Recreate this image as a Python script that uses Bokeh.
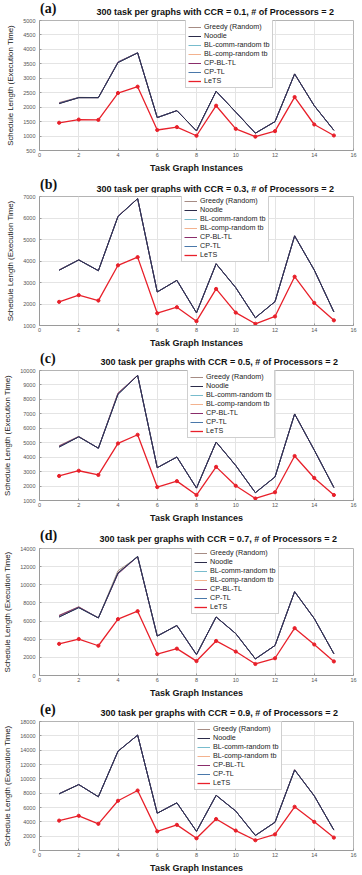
from bokeh.plotting import figure
from bokeh.layouts import column
from bokeh.models import FixedTicker, Legend, LegendItem, Range1d
from bokeh.core.properties import value
from bokeh.embed import file_html
from bokeh.resources import INLINE

# task graph instance index
instances = list(range(1, 16))

series_names = ["Greedy (Random)", "Noodle", "BL-comm-random tb", "BL-comp-random tb",
                "CP-BL-TL", "CP-TL", "LeTS"]
series_colors = ["#a68c84", "#2c2c4a", "#78bccd", "#f3b28e", "#8a2d6a", "#4a78aa", "#e8202a"]
x_ticks = [0, 2, 4, 6, 8, 10, 12, 14, 16]

# CCR = 0.1
greedy_01 = [2160, 2340, 2330, 3570, 3880, 1640, 1880, 1180, 2550, 1830, 1100, 1500, 3150, 2050, 1200]
noodle_01 = [2120, 2330, 2330, 3540, 3880, 1640, 1880, 1180, 2550, 1830, 1100, 1500, 3150, 2050, 1200]
blcomm_01 = [2130, 2330, 2330, 3550, 3880, 1640, 1880, 1180, 2550, 1830, 1100, 1500, 3150, 2050, 1200]
blcomp_01 = [2130, 2330, 2330, 3550, 3880, 1640, 1880, 1180, 2550, 1830, 1100, 1500, 3150, 2050, 1200]
cpbltl_01 = [2140, 2330, 2330, 3560, 3880, 1640, 1880, 1180, 2550, 1830, 1100, 1500, 3150, 2050, 1200]
cptl_01   = [2130, 2330, 2330, 3550, 3880, 1640, 1880, 1180, 2550, 1830, 1100, 1500, 3150, 2050, 1200]
lets_01   = [1460, 1570, 1560, 2490, 2710, 1210, 1310, 1010, 2050, 1250, 980, 1170, 2350, 1400, 1020]

# CCR = 0.3
greedy_03 = [3590, 4060, 3550, 6090, 6900, 2560, 3100, 1590, 3870, 2760, 1360, 2110, 5170, 3580, 1630]
noodle_03 = [3570, 4050, 3550, 6070, 6900, 2560, 3100, 1590, 3870, 2760, 1360, 2110, 5170, 3580, 1630]
blcomm_03 = [3570, 4050, 3550, 6070, 6900, 2560, 3100, 1590, 3870, 2760, 1360, 2110, 5170, 3580, 1630]
blcomp_03 = [3570, 4050, 3550, 6070, 6900, 2560, 3100, 1590, 3870, 2760, 1360, 2110, 5170, 3580, 1630]
cpbltl_03 = [3580, 4050, 3550, 6080, 6900, 2560, 3100, 1590, 3870, 2760, 1360, 2110, 5170, 3580, 1630]
cptl_03   = [3570, 4050, 3550, 6070, 6900, 2560, 3100, 1590, 3870, 2760, 1360, 2110, 5170, 3580, 1630]
lets_03   = [2100, 2410, 2160, 3800, 4180, 1570, 1850, 1200, 2700, 1600, 1080, 1420, 3270, 2050, 1240]

# CCR = 0.5
greedy_05 = [4800, 5440, 4620, 8450, 9660, 3270, 4010, 1860, 5050, 3420, 1540, 2630, 6990, 4490, 1900]
noodle_05 = [4700, 5410, 4620, 8350, 9660, 3270, 4010, 1860, 5050, 3420, 1540, 2630, 6990, 4490, 1900]
blcomm_05 = [4720, 5410, 4620, 8380, 9660, 3270, 4010, 1860, 5050, 3420, 1540, 2630, 6990, 4490, 1900]
blcomp_05 = [4720, 5410, 4620, 8380, 9660, 3270, 4010, 1860, 5050, 3420, 1540, 2630, 6990, 4490, 1900]
cpbltl_05 = [4760, 5420, 4620, 8420, 9660, 3270, 4010, 1860, 5050, 3420, 1540, 2630, 6990, 4490, 1900]
cptl_05   = [4700, 5410, 4620, 8350, 9660, 3270, 4010, 1860, 5050, 3420, 1540, 2630, 6990, 4490, 1900]
lets_05   = [2700, 3060, 2770, 4950, 5550, 1930, 2340, 1380, 3330, 2020, 1140, 1570, 4080, 2560, 1380]

# CCR = 0.7
greedy_07 = [6650, 7580, 6350, 11550, 13050, 4350, 5510, 2300, 6450, 4620, 1830, 3310, 9240, 6280, 2400]
noodle_07 = [6450, 7480, 6350, 11300, 13120, 4350, 5510, 2300, 6450, 4620, 1830, 3310, 9240, 6280, 2400]
blcomm_07 = [6500, 7500, 6350, 11350, 13120, 4350, 5510, 2300, 6450, 4620, 1830, 3310, 9240, 6280, 2400]
blcomp_07 = [6500, 7500, 6350, 11350, 13120, 4350, 5510, 2300, 6450, 4620, 1830, 3310, 9240, 6280, 2400]
cpbltl_07 = [6600, 7550, 6350, 11200, 13100, 4350, 5510, 2300, 6450, 4620, 1830, 3310, 9240, 6280, 2400]
cptl_07   = [6450, 7480, 6350, 11300, 13120, 4350, 5510, 2300, 6450, 4620, 1830, 3310, 9240, 6280, 2400]
lets_07   = [3490, 4020, 3280, 6210, 7090, 2360, 2960, 1590, 3810, 2640, 1270, 1900, 5220, 3420, 1550]

# CCR = 0.9
greedy_09 = [7950, 9200, 7500, 13850, 16100, 5200, 6650, 2670, 7700, 5500, 2100, 3940, 11280, 7620, 2850]
noodle_09 = [7900, 9200, 7500, 13850, 16100, 5200, 6650, 2670, 7700, 5500, 2100, 3940, 11240, 7620, 2850]
blcomm_09 = [7900, 9200, 7500, 13850, 16100, 5200, 6650, 2670, 7700, 5500, 2100, 3940, 11240, 7620, 2850]
blcomp_09 = [7900, 9200, 7500, 13850, 16100, 5200, 6650, 2670, 7700, 5500, 2100, 3940, 11240, 7620, 2850]
cpbltl_09 = [7920, 9200, 7500, 13850, 16100, 5200, 6650, 2670, 7700, 5500, 2100, 3940, 11260, 7620, 2850]
cptl_09   = [7900, 9200, 7500, 13850, 16100, 5200, 6650, 2670, 7700, 5500, 2100, 3940, 11240, 7620, 2850]
lets_09   = [4170, 4840, 3720, 6940, 8370, 2670, 3580, 1700, 4390, 2780, 1430, 2250, 6100, 4000, 1800]

# y-axis ticks of each panel
y_ticks_01 = [500, 1000, 1500, 2000, 2500, 3000, 3500, 4000, 4500, 5000]
y_ticks_03 = [1000, 2000, 3000, 4000, 5000, 6000, 7000]
y_ticks_05 = [1000, 2000, 3000, 4000, 5000, 6000, 7000, 8000, 9000, 10000]
y_ticks_07 = [0, 2000, 4000, 6000, 8000, 10000, 12000, 14000]
y_ticks_09 = [0, 2000, 4000, 6000, 8000, 10000, 12000, 14000, 16000, 18000]

# border = (left, right, top, bottom) around each plot frame, within a 175 px band
panels = [
    dict(tag="(a)", ccr="0.1", data=[greedy_01, noodle_01, blcomm_01, blcomp_01, cpbltl_01, cptl_01, lets_01],
         yticks=y_ticks_01, border=(32, 4, 20, 23), legend_x=146, legend_top=2,
         title_x=57, title_y=11, tag_y=0),
    dict(tag="(b)", ccr="0.3", data=[greedy_03, noodle_03, blcomm_03, blcomp_03, cpbltl_03, cptl_03, lets_03],
         yticks=y_ticks_03, border=(33, 1, 21, 21), legend_x=142, legend_top=2,
         title_x=57, title_y=13, tag_y=1),
    dict(tag="(c)", ccr="0.5", data=[greedy_05, noodle_05, blcomm_05, blcomp_05, cpbltl_05, cptl_05, lets_05],
         yticks=y_ticks_05, border=(37, 9, 20, 22), legend_x=148, legend_top=3,
         title_x=61, title_y=11, tag_y=0),
    dict(tag="(d)", ccr="0.7", data=[greedy_07, noodle_07, blcomm_07, blcomp_07, cpbltl_07, cptl_07, lets_07],
         yticks=y_ticks_07, border=(35, 9, 23, 20), legend_x=152, legend_top=3,
         title_x=60, title_y=13, tag_y=2),
    dict(tag="(e)", ccr="0.9", data=[greedy_09, noodle_09, blcomm_09, blcomp_09, cpbltl_09, cptl_09, lets_09],
         yticks=y_ticks_09, border=(35, 5, 21, 20), legend_x=155, legend_top=6,
         title_x=61, title_y=12, tag_y=1),
]

FONT = "Liberation Sans"
W, H = 362, 175
TOP_PAD = 3
LEG_FONT = 7.2
LEG_PAD = 2
# draw order: the near-identical baseline heuristics first, Noodle on top of them, LeTS last
order = [0, 2, 3, 4, 5, 1, 6]

blocks = []
for pn in panels:
    bl, br, bt, bb = pn["border"]
    yt = pn["yticks"]
    hh = bt - TOP_PAD  # header strip holding the panel letter and the title

    # header strip: its frame spans the whole strip, one unit per pixel
    head = figure(frame_width=W, frame_height=hh, output_backend="svg", toolbar_location=None,
                  x_axis_location=None, y_axis_location=None, title=None,
                  x_range=Range1d(0, W), y_range=Range1d(0, hh),
                  min_border_left=0, min_border_right=0, min_border_top=0, min_border_bottom=0)
    head.outline_line_color = None
    head.grid.visible = False
    head.text(x=[pn["title_x"]], y=[hh - pn["title_y"]],
              text=[f"300 task per graphs with CCR = {pn['ccr']}, # of Processors = 2"],
              text_font=value(FONT), text_font_style="bold", text_font_size="9px",
              text_color="#111111", text_align="left", text_baseline="middle")
    head.text(x=[0.5], y=[hh - pn["tag_y"]], text=[pn["tag"]],
              text_font=value("Liberation Serif"), text_font_style="bold",
              text_font_size="14px", text_color="#111111",
              text_align="left", text_baseline="top")

    p = figure(width=W, height=H - hh, output_backend="svg", toolbar_location=None,
               x_range=Range1d(0, 16), y_range=Range1d(yt[0], yt[-1]),
               min_border_left=bl, min_border_right=br, min_border_top=TOP_PAD, min_border_bottom=bb)
    p.background_fill_color = "white"
    p.border_fill_color = "white"
    p.outline_line_color = "#b4b4b4"
    p.outline_line_width = 1

    p.xaxis.ticker = FixedTicker(ticks=x_ticks)
    p.yaxis.ticker = FixedTicker(ticks=yt)
    p.xgrid.grid_line_color = "#e4e4e4"
    p.ygrid.grid_line_color = "#e4e4e4"
    for ax in (p.xaxis[0], p.yaxis[0]):
        ax.axis_line_color = "#9a9a9a"
        ax.major_tick_line_color = "#9a9a9a"
        ax.major_tick_in = 2
        ax.major_tick_out = 0
        ax.minor_tick_line_color = None
        ax.major_label_text_font = FONT
        ax.major_label_text_font_size = "5.5px"
        ax.major_label_text_color = "#555555"
        ax.axis_label_text_font = FONT
        ax.axis_label_text_color = "#151515"
    p.xaxis.major_label_standoff = 2
    p.yaxis.major_label_standoff = 4
    p.xaxis.axis_label = "Task Graph Instances"
    p.xaxis.axis_label_text_font_size = "9px"
    p.xaxis.axis_label_text_font_style = "bold"
    p.xaxis.axis_label_standoff = 3
    p.yaxis.axis_label = "Schedule Length (Execution Time)"
    p.yaxis.axis_label_text_font_size = "7.9px"
    p.yaxis.axis_label_text_font_style = "normal"
    p.yaxis.axis_label_standoff = 5

    renderers = {}
    for i in order:
        vals = pn["data"][i]
        if series_names[i] == "LeTS":
            ln = p.line(instances, vals, line_color=series_colors[i], line_width=1.3)
            p.scatter(instances, vals, size=3.2, fill_color=series_colors[i],
                      line_color=series_colors[i])
        else:
            ln = p.line(instances, vals, line_color=series_colors[i], line_width=1)
        renderers[i] = [ln]

    items = [LegendItem(label=series_names[i], renderers=renderers[i]) for i in range(7)]
    frame_h = H - bt - bb
    leg_h = 7 * LEG_FONT * 1.2 + 2 * LEG_PAD + 4
    leg = Legend(items=items, location=(pn["legend_x"], frame_h - pn["legend_top"] - leg_h),
                 orientation="vertical")
    leg.label_text_font = FONT
    leg.label_text_font_size = f"{LEG_FONT}px"
    leg.label_text_color = "#222222"
    leg.label_height = 8
    leg.glyph_height = 8
    leg.glyph_width = 13
    leg.label_standoff = 3
    leg.spacing = 0
    leg.padding = LEG_PAD
    leg.margin = 0
    leg.border_line_color = "#a0a0a0"
    leg.border_line_width = 1
    leg.background_fill_color = "white"
    leg.background_fill_alpha = 1
    p.add_layout(leg)

    blocks.extend([head, p])

layout = column(*blocks, spacing=0)
open("out.html", "w").write(file_html(layout, INLINE))
